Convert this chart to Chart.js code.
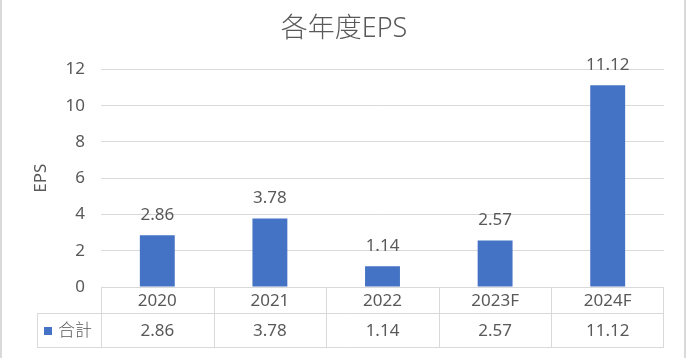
<!DOCTYPE html>
<html>
<head>
<meta charset="utf-8">
<script src="https://cdn.jsdelivr.net/npm/chart.js@4"></script>
<style>
  html, body { margin: 0; padding: 0; background: #ffffff; }
  #wrap { width: 688px; height: 358px; }
</style>
</head>
<body>
<div id="wrap"><canvas id="eps" width="688" height="358"></canvas></div>
<script>
const years = ["2020", "2021", "2022", "2023F", "2024F"];
const epsTotal = [2.86, 3.78, 1.14, 2.57, 11.12];
const yTicks = [0, 2, 4, 6, 8, 10, 12];
const seriesName = "合計";

const barColour = "#4472c4";
const textColour = "#595959";
const lineColour = "#d9d9d9";
const fontFamily = "'Noto Sans', 'Noto Sans CJK TC', sans-serif";

// value labels above each bar
const barLabels = {
  id: "barLabels",
  afterDatasetsDraw(chart) {
    const ctx = chart.ctx;
    const meta = chart.getDatasetMeta(0);
    ctx.save();
    ctx.font = "17px " + fontFamily;
    ctx.fillStyle = textColour;
    ctx.textAlign = "center";
    ctx.textBaseline = "middle";
    meta.data.forEach((bar, i) => {
      ctx.fillText(epsTotal[i].toFixed(2), bar.x, bar.y - 20);
    });
    ctx.restore();
  },
};

// data table under the plot, like Excel's chart data table
const dataTable = {
  id: "dataTable",
  afterDraw(chart) {
    const ctx = chart.ctx;
    const area = chart.chartArea;
    const x = chart.scales.x;
    const half = (x.getPixelForValue(1) - x.getPixelForValue(0)) / 2;
    const top = area.bottom;
    const mid = top + 26;
    const bottom = mid + 34;
    const legendLeft = 37;

    ctx.save();
    ctx.strokeStyle = lineColour;
    ctx.lineWidth = 1;
    ctx.beginPath();
    ctx.moveTo(area.left, top + 0.5);
    ctx.lineTo(area.right, top + 0.5);
    ctx.moveTo(legendLeft, mid + 0.5);
    ctx.lineTo(area.right, mid + 0.5);
    ctx.moveTo(legendLeft, bottom + 0.5);
    ctx.lineTo(area.right, bottom + 0.5);
    ctx.moveTo(legendLeft + 0.5, mid);
    ctx.lineTo(legendLeft + 0.5, bottom);
    years.forEach((y, i) => {
      const edge = Math.round(x.getPixelForValue(i) - half) + 0.5;
      ctx.moveTo(edge, top);
      ctx.lineTo(edge, bottom);
    });
    const lastEdge = Math.round(x.getPixelForValue(years.length - 1) + half) - 0.5;
    ctx.moveTo(lastEdge, top);
    ctx.lineTo(lastEdge, bottom);
    ctx.stroke();

    ctx.font = "17px " + fontFamily;
    ctx.fillStyle = textColour;
    ctx.textAlign = "center";
    ctx.textBaseline = "middle";
    years.forEach((y, i) => {
      const cx = x.getPixelForValue(i);
      ctx.fillText(y, cx, top + 14);
      ctx.fillText(epsTotal[i].toFixed(2), cx, mid + 18);
    });

    ctx.fillStyle = barColour;
    ctx.fillRect(44, mid + 14, 8, 8);
    ctx.fillStyle = textColour;
    ctx.textAlign = "left";
    ctx.font = "300 17px " + fontFamily;
    ctx.fillText(seriesName, 58, mid + 18);

    // outer chart border
    ctx.strokeStyle = lineColour;
    ctx.lineWidth = 2;
    ctx.beginPath();
    ctx.moveTo(1, 0);
    ctx.lineTo(1, chart.height);
    ctx.moveTo(685, 0);
    ctx.lineTo(685, chart.height);
    ctx.stroke();
    ctx.restore();
  },
};

new Chart(document.getElementById("eps"), {
  type: "bar",
  data: {
    labels: years,
    datasets: [
      {
        label: seriesName,
        data: epsTotal,
        backgroundColor: barColour,
        borderWidth: 0,
        categoryPercentage: 1,
        barPercentage: 0.31,
      },
    ],
  },
  options: {
    responsive: false,
    animation: false,
    layout: {
      padding: { left: 24, right: 24, top: 0, bottom: 71 },
    },
    plugins: {
      legend: { display: false },
      tooltip: { enabled: false },
      title: {
        display: true,
        text: "各年度EPS",
        color: textColour,
        font: { family: fontFamily, size: 27, weight: "300" },
        padding: { top: 13, bottom: 24 },
      },
    },
    scales: {
      x: {
        display: true,
        ticks: { display: false },
        grid: { display: false },
        border: { display: false },
        afterFit: (scale) => {
          scale.height = 0;
        },
      },
      y: {
        min: 0,
        max: 12,
        afterBuildTicks: (scale) => {
          scale.ticks = yTicks.map((v) => ({ value: v }));
        },
        afterFit: (scale) => {
          scale.width = 77;
        },
        ticks: {
          color: textColour,
          padding: 16,
          font: { family: fontFamily, size: 17 },
        },
        grid: {
          color: lineColour,
          lineWidth: 1,
          drawTicks: false,
        },
        border: { display: false },
        title: {
          display: true,
          text: "EPS",
          color: textColour,
          font: { family: fontFamily, size: 17 },
          padding: { top: 7, bottom: 0 },
        },
      },
    },
  },
  plugins: [barLabels, dataTable],
});
</script>
</body>
</html>
